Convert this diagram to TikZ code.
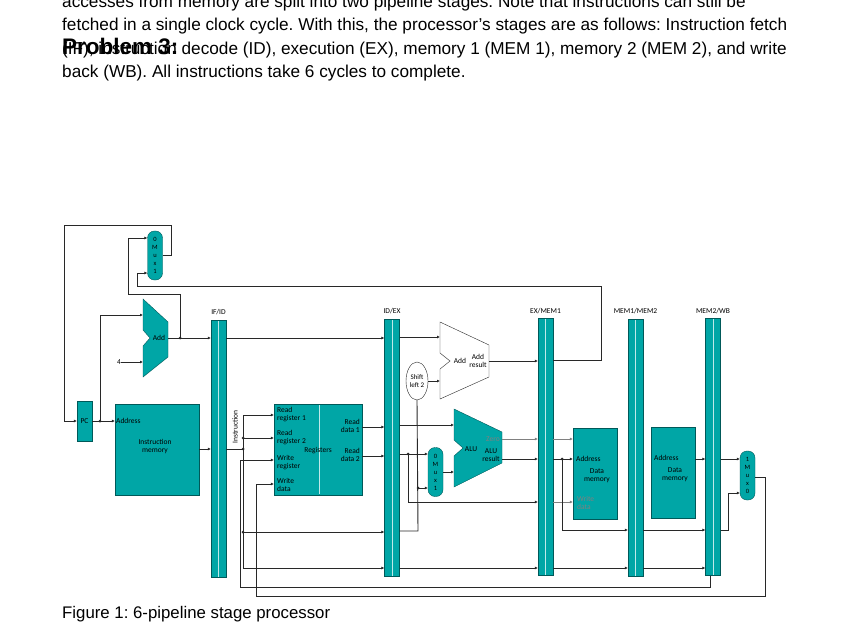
\documentclass[tikz,border=0pt]{standalone}
\usepackage{fontspec}
\setmainfont{Liberation Sans}
\newfontfamily\diagfont{Carlito}
\usetikzlibrary{arrows.meta,positioning,shapes.geometric}

\definecolor{tealbox}{RGB}{0,166,166}
\definecolor{wirecol}{RGB}{40,40,40}

\begin{document}
\frenchspacing
\begin{tikzpicture}[x=1pt,y=-1pt,
    wire/.style={draw=wirecol,line width=0.9pt,-{Latex[length=3pt,width=3pt]}},
    plain/.style={draw=wirecol,line width=0.9pt},
    faint/.style={draw=gray,line width=0.9pt,-{Latex[length=3pt,width=3pt]}},
    bar/.style={draw=teal!70!black,fill=tealbox,minimum width=15pt,minimum height=257pt,inner sep=0pt,
      path picture={\draw[white!75!tealbox,line width=0.6pt] (path picture bounding box.north) -- (path picture bounding box.south);}},
    box/.style={draw=teal!70!black,fill=tealbox,inner sep=0pt},
    mux/.style={draw=teal!70!black,fill=tealbox,rounded corners=7pt,minimum width=15pt,minimum height=49pt,
      inner sep=0pt,align=center,font=\diagfont\fontsize{6.5}{8}\selectfont},
    lbl/.style={font=\diagfont\fontsize{7.5}{8}\selectfont,inner sep=0pt,align=left},
    dot/.style={circle,fill=wirecol,inner sep=0pt,minimum size=3pt}]

  \useasboundingbox (0,0) rectangle (861,644);

  % text of the problem
  \node[anchor=base west,inner sep=0pt,font=\bfseries\fontsize{22.5}{24}\selectfont] (title) at (62,55) {Problem 3:};
  \node[anchor=base west,inner sep=0pt,align=left,font=\fontsize{17.2}{23.6}\selectfont] (body) at (62,78)
    {Consider the 6-pipeline stage, in-order processor architecture shown in Figure 1 which\\
     resembles the 5-pipeline stage processor that we covered in class with the exception that data\\
     accesses from memory are split into two pipeline stages. Note that instructions can still be\\
     fetched in a single clock cycle. With this, the processor’s stages are as follows: Instruction fetch\\
     (IF), instruction decode (ID), execution (EX), memory 1 (MEM 1), memory 2 (MEM 2), and write\\
     back (WB). All instructions take 6 cycles to complete.};
  \node[anchor=base west,inner sep=0pt,font=\fontsize{16.8}{18}\selectfont] (caption) at (62,618) {Figure 1: 6-pipeline stage processor};

  % pipeline registers
  \node[bar] (ifid) at (218.5,448.5) {};
  \node[bar] (idex) at (392,447.5) {};
  \node[bar] (exmem) at (545.5,447) {};
  \node[bar] (mema) at (635.5,447.5) {};
  \node[bar] (memb) at (713,447) {};
  \node[lbl] at (218.5,312) {IF/ID};
  \node[lbl] at (392,311) {ID/EX};
  \node[lbl] at (545.5,311) {EX/MEM1};
  \node[lbl] at (635.5,311) {MEM1/MEM2};
  \node[lbl] at (713,311) {MEM2/WB};

  % units
  \node[box,minimum width=15pt,minimum height=40pt] (pc) at (84.5,421) {};
  \node[lbl] at (84.5,421) {PC};
  \node[box,minimum width=84pt,minimum height=91pt] (imem) at (157,449.5) {};
  \node[lbl,anchor=west] at (116,421) {Address};
  \node[lbl,align=center] at (155,447) {Instruction\\memory};
  \node[box,minimum width=88pt,minimum height=91pt] (regs) at (318,449.5) {};
  \draw[white!75!tealbox,line width=0.5pt] (319,405) -- (319,494);
  \node[lbl,anchor=north west] at (277,407) {Read\\register 1};
  \node[lbl,anchor=north west] at (277,430) {Read\\register 2};
  \node[lbl,anchor=north west] at (277,455) {Write\\register};
  \node[lbl,anchor=north west] at (277,478) {Write\\data};
  \node[lbl,anchor=north east,align=right] at (360,419) {Read\\data 1};
  \node[lbl,anchor=north east,align=right] at (360,448) {Read\\data 2};
  \node[lbl] at (318,451) {Registers};
  \node[box,minimum width=44pt,minimum height=91pt] (dmema) at (595,473.5) {};
  \node[lbl,anchor=west] at (576,459) {Address};
  \node[lbl,align=center] at (597,476) {Data\\memory};
  \node[lbl,anchor=north west,text=gray] at (577,496) {Write\\data};
  \node[box,minimum width=44pt,minimum height=91pt] (dmemb) at (673,472.5) {};
  \node[lbl,anchor=west] at (654,458) {Address};
  \node[lbl,align=center] at (675,475) {Data\\memory};

  % adders and ALU
  \draw[draw=teal!70!black,fill=tealbox] (143,299) -- (168,322) -- (168,357) -- (143,377) -- (143,346) -- (150,338) -- (143,330) -- cycle;
  \node[lbl] (addpc) at (159,338) {Add};
  \draw[draw=wirecol,fill=white] (440,322) -- (489,345) -- (489,377) -- (440,399) -- (440,369) -- (450,361) -- (440,353) -- cycle;
  \node[lbl] (addbr) at (460,361) {Add};
  \node[lbl,align=center] at (478,361) {Add\\result};
  \draw[draw=teal!70!black,fill=tealbox] (454,409) -- (502,432) -- (502,463) -- (454,487) -- (454,456) -- (463,448) -- (454,440) -- cycle;
  \node[lbl] (alu) at (471,449) {ALU};
  \node[lbl,align=center] at (491,455) {ALU\\result};
  \node[lbl,text=gray] at (493,439) {Zero};
  \node[draw=wirecol,fill=white,ellipse,minimum width=22pt,minimum height=38pt,inner sep=0pt,
    align=center,font=\diagfont\fontsize{7}{8}\selectfont] (shl) at (417,381) {Shift\\left 2};

  % multiplexers
  \node[mux] (muxa) at (155,255.5) {0\\M\\u\\x\\1};
  \node[mux] (muxb) at (435.5,472) {0\\M\\u\\x\\1};
  \node[mux] (muxc) at (747.5,475.5) {1\\M\\u\\x\\0};
  \node[lbl] (four) at (119,362) {4};

  % IF stage wires
  \draw[wire] (muxa.east |- 0,255) -- (171,255) -- (171,225) -- (64,225) -- (64,421) -- (pc.west);
  \draw[wire] (pc.east) -- (imem.west |- pc.east);
  \draw[wire] (100,421) -- (100,315) -- (143,315);
  \node[dot] at (100,421) {};
  \draw[wire] (four.east) -- (143,362);
  \draw[wire] (168,338) -- (ifid.west |- 0,338);
  \draw[wire] (180,338) -- (180,294) -- (128,294) -- (128,238) -- (muxa.west |- 0,238);
  \node[dot] at (180,338) {};
  \draw[wire] (exmem.east |- 0,360) -- (601,360) -- (601,286) -- (137,286) -- (137,273) -- (muxa.west |- 0,273);
  \draw[wire] (imem.east |- 0,449) -- (ifid.west |- 0,449);

  % ID stage wires
  \draw[wire] (ifid.east |- 0,338) -- (idex.west |- 0,338);
  \draw[plain] (ifid.east |- 0,449) -- (243,449);
  \node[lbl,rotate=90] at (235,427) {Instruction};
  \draw[plain] (243,415) -- (243,568);
  \draw[wire] (243,415) -- (regs.west |- 0,415);
  \draw[wire] (243,438) -- (regs.west |- 0,438);
  \draw[wire] (243,532) -- (idex.west |- 0,532);
  \draw[wire] (243,568) -- (idex.west |- 0,568);
  \foreach \yy in {438,449,532} \node[dot] at (243,\yy) {};
  \draw[wire] (memb.south -| 710,0) -- (710,587) -- (240,587) -- (240,460) -- (regs.west |- 0,460);
  \draw[wire] (muxc.east |- 0,477) -- (765,477) -- (765,596) -- (256,596) -- (256,484) -- (regs.west |- 0,484);
  \draw[wire] (regs.east |- 0,427) -- (idex.west |- 0,427);
  \draw[wire] (regs.east |- 0,456) -- (idex.west |- 0,456);

  % EX stage wires
  \draw[wire] (idex.east |- 0,337) -- (440,337);
  \draw[wire] (idex.east |- 0,425) -- (454,425);
  \draw[wire] (idex.east |- 0,454) -- (muxb.west |- 0,454);
  \draw[wire] (408,454) -- (408,502) -- (exmem.west |- 0,502);
  \node[dot] at (408,454) {};
  \draw[plain] (idex.east |- 0,531) -- (418,531) -- (shl.south);
  \draw[wire] (418,488) -- (muxb.west |- 0,488);
  \node[dot] at (418,488) {};
  \draw[wire] (shl.east |- 0,381) -- (440,381);
  \draw[wire] (muxb.east |- 0,472) -- (454,472);
  \draw[wire] (489,361) -- (exmem.west |- 0,361);
  \draw[faint] (502,439) -- (exmem.west |- 0,439);
  \draw[wire] (502,459) -- (exmem.west |- 0,459);
  \draw[wire] (idex.east |- 0,568) -- (exmem.west |- 0,568);

  % MEM and WB stage wires
  \draw[faint] (exmem.east |- 0,439) -- (dmema.west |- 0,439);
  \draw[wire] (exmem.east |- 0,459) -- (dmema.west |- 0,459);
  \draw[faint] (exmem.east |- 0,502) -- (dmema.west |- 0,502);
  \draw[wire] (562,459) -- (562,530) -- (mema.west |- 0,530);
  \node[dot] at (562,459) {};
  \draw[wire] (mema.east |- 0,530) -- (memb.west |- 0,530);
  \draw[wire] (memb.east |- 0,530) -- (728,530) -- (728,493) -- (muxc.west |- 0,493);
  \draw[wire] (exmem.east |- 0,568) -- (mema.west |- 0,568);
  \draw[wire] (mema.east |- 0,568) -- (memb.west |- 0,568);
  \draw[wire] (dmemb.east |- 0,459) -- (memb.west |- 0,459);
  \draw[wire] (memb.east |- 0,459) -- (muxc.west |- 0,459);
\end{tikzpicture}
\end{document}
